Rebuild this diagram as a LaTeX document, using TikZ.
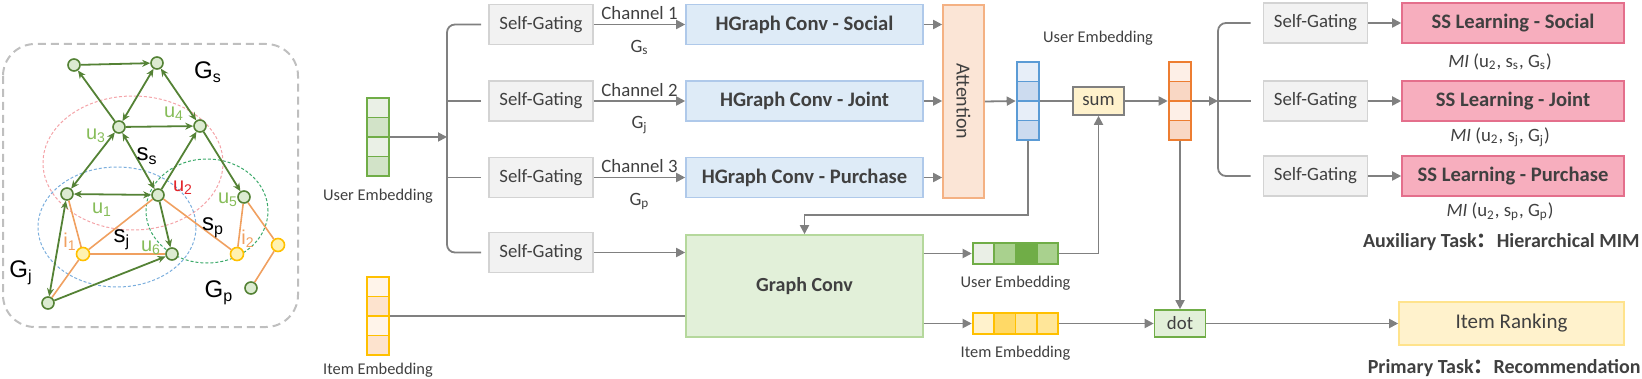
\documentclass[tikz,border=0pt]{standalone}
\usepackage{fontspec}
\usepackage{graphicx}
\setmainfont{Carlito}
\newfontfamily\graphfont{Liberation Sans}
\newfontfamily\cjkfont{Noto Sans CJK SC}
\usetikzlibrary{arrows.meta,positioning,fit,calc}

% Colours
\definecolor{txtgray}{HTML}{404040}
\definecolor{linegray}{HTML}{808080}
\definecolor{sgfill}{HTML}{F2F2F2}
\definecolor{sgline}{HTML}{D3D3D3}
\definecolor{hgfill}{HTML}{DEEBF7}
\definecolor{hgline}{HTML}{AFC9EA}
\definecolor{attfill}{HTML}{FBE5D6}
\definecolor{attline}{HTML}{F4B183}
\definecolor{gcfill}{HTML}{E2F0D9}
\definecolor{gcline}{HTML}{B5D89C}
\definecolor{ssfill}{HTML}{F7AEBE}
\definecolor{ssline}{HTML}{E46F8C}
\definecolor{rkfill}{HTML}{FFF2CC}
\definecolor{rkline}{HTML}{FFE38C}
\definecolor{embgreen}{HTML}{70AD47}
\definecolor{embblue}{HTML}{5B9BD5}
\definecolor{emborange}{HTML}{ED7D31}
\definecolor{embyellow}{HTML}{FFC000}
\definecolor{ugA}{HTML}{EAF0E6}
\definecolor{ugB}{HTML}{D2E3C8}
\definecolor{ubA}{HTML}{E7EEF8}
\definecolor{ubB}{HTML}{CCDBEF}
\definecolor{uoA}{HTML}{FDEFE7}
\definecolor{uoB}{HTML}{F9D7C4}
\definecolor{iyA}{HTML}{FFF4EA}
\definecolor{iyB}{HTML}{FDE3CE}
\definecolor{hgA}{HTML}{EAEFE6}
\definecolor{hgB}{HTML}{A9D18E}
\definecolor{hgC}{HTML}{70AD47}
\definecolor{hyA}{HTML}{FFF2CC}
\definecolor{hyB}{HTML}{FFD966}
\definecolor{hyC}{HTML}{FFE699}
\definecolor{gdark}{HTML}{548235}
\definecolor{gnode}{HTML}{DCEBD1}
\definecolor{glabel}{HTML}{86BC58}
\definecolor{iorange}{HTML}{F0A060}
\definecolor{ured}{HTML}{E3262B}
\definecolor{inode}{HTML}{FFF2B0}
\definecolor{ringS}{HTML}{F4A3A8}
\definecolor{ringJ}{HTML}{7BAEDD}
\definecolor{ringP}{HTML}{3DAA6B}
\definecolor{framegray}{HTML}{BFBFBF}

\begin{document}
\begin{tikzpicture}[
    x=0.5pt, y=-0.5pt,
    font=\fontsize{9.4}{11}\selectfont, text=txtgray,
    % Estilos de cajas
    gatebox/.style={draw=sgline, fill=sgfill, line width=0.8pt, minimum width=52pt, minimum height=20pt, inner sep=0pt},
    hgbox/.style={draw=hgline, fill=hgfill, line width=0.8pt, minimum width=118.5pt, minimum height=20pt, inner sep=0pt, font=\fontsize{10.3}{12}\selectfont\bfseries},
    attbox/.style={draw=attline, fill=attfill, line width=0.8pt, minimum width=20.5pt, minimum height=96.5pt, inner sep=0pt, font=\fontsize{10}{12}\selectfont},
    gcbox/.style={draw=gcline, fill=gcfill, line width=0.8pt, minimum width=118.5pt, minimum height=51pt, inner sep=0pt, font=\fontsize{10}{12}\selectfont\bfseries},
    sumbox/.style={draw=linegray, fill=rkfill, line width=0.8pt, minimum width=25.5pt, minimum height=14pt, inner sep=0pt},
    dotbox/.style={draw=embgreen, fill=gcfill, line width=0.8pt, minimum width=25.5pt, minimum height=13.5pt, inner sep=0pt},
    ssbox/.style={draw=ssline, fill=ssfill, line width=0.8pt, minimum width=111pt, minimum height=20pt, inner sep=0pt, font=\fontsize{10.3}{12}\selectfont\bfseries},
    rankbox/.style={draw=rkline, fill=rkfill, line width=0.8pt, minimum width=112.5pt, minimum height=21.5pt, inner sep=0pt, font=\fontsize{10.5}{12}\selectfont},
    vcell/.style={line width=0.9pt, minimum width=11pt, minimum height=9.75pt, inner sep=0pt},
    hcell/.style={line width=0.9pt, minimum width=10.6pt, minimum height=10.5pt, inner sep=0pt},
    embtext/.style={font=\fontsize{8.2}{10}\selectfont, inner sep=0pt},
    tasktext/.style={font=\fontsize{10}{12}\selectfont\bfseries, inner sep=0pt},
    % Estilos de flechas
    link/.style={draw=linegray, line width=0.9pt},
    arrow/.style={link, -{Triangle[length=4.5pt,width=4.5pt]}},
    % Estilos del grafo
    frame/.style={draw=framegray, line width=1pt, dash pattern=on 4pt off 2.5pt, rounded corners=16pt},
    ring/.style={line width=0.5pt, dash pattern=on 1.5pt off 1pt},
    unode/.style={circle, draw=gdark, fill=gnode, line width=0.8pt, minimum size=6pt, inner sep=0pt},
    inode/.style={circle, draw=embyellow, fill=inode, line width=0.8pt, minimum size=6.5pt, inner sep=0pt},
    gto/.style={draw=gdark, line width=0.9pt, -{Stealth[length=4pt,width=3.5pt]}},
    gboth/.style={draw=gdark, line width=0.9pt, {Stealth[length=4pt,width=3.5pt]}-{Stealth[length=4pt,width=3.5pt]}},
    iedge/.style={draw=iorange, line width=0.8pt},
    glbl/.style={font=\graphfont\fontsize{10}{11}\selectfont, inner sep=0pt},
    slbl/.style={font=\graphfont\fontsize{12}{12}\selectfont, inner sep=0pt, text=black}
]
\useasboundingbox (0,0) rectangle (1642,379);

% ==========================================
% MACROS
% ==========================================
% Vector vertical de 4 celdas
\newcommand{\vembed}[5]{
    \foreach \cellcol [count=\idx] in {#5}
        \node[vcell, draw=#4, fill=\cellcol] (#1-\idx) at (#2, {#3 + 19.5*\idx - 9.75}) {};
    \node[fit=(#1-1)(#1-4), inner sep=0pt] (#1) {};
}
% Vector horizontal de 4 celdas
\newcommand{\hembed}[5]{
    \foreach \cellcol [count=\idx] in {#5}
        \node[hcell, draw=#4, fill=\cellcol] (#1-\idx) at ({#2 + 21.25*\idx - 10.625}, #3) {};
    \node[fit=(#1-1)(#1-4), inner sep=0pt] (#1) {};
}

% ==========================================
% GRAFO (izquierda)
% ==========================================
\begin{scope}
    \draw[frame] (3,44) rectangle (298,327);

    % Hiperaristas
    \draw[ring, ringS] (133,163) ellipse [x radius=45pt, y radius=33.5pt];
    \draw[ring, ringJ] (117,227) ellipse [x radius=39.5pt, y radius=30pt];
    \draw[ring, ringP] (207,211) ellipse [x radius=30.5pt, y radius=26pt];

    % Usuarios e items
    \node[unode] (nA) at (74,65) {};
    \node[unode] (nB) at (157,63) {};
    \node[unode] (nU3) at (119,127) {};
    \node[unode] (nU4) at (200,126) {};
    \node[unode] (nU1) at (67,194) {};
    \node[unode] (nU2) at (158,195) {};
    \node[unode] (nU5) at (244,197) {};
    \node[unode] (nU6) at (172,254) {};
    \node[unode] (nC) at (48,303) {};
    \node[unode] (nP) at (251,288) {};
    \node[inode] (nI1) at (83,254) {};
    \node[inode] (nI2) at (237,254) {};
    \node[inode] (nI3) at (278,245) {};

    % Relaciones sociales
    \draw[gto] (nA) -- (nB);
    \draw[gto] (nU3) -- (nA);
    \draw[gboth] (nB) -- (nU3);
    \draw[gboth] (nB) -- (nU4);
    \draw[gto] (nU3) -- (nU4);
    \draw[gboth] (nU3) -- (nU1);
    \draw[gboth] (nU3) -- (nU2);
    \draw[gboth] (nU1) -- (nU2);
    \draw[gto] (nU2) -- (nU4);
    \draw[gto] (nU4) -- (nU5);
    \draw[gto] (nU2) -- (nU6);
    \draw[gboth] (nC) -- (nU1);
    \draw[gto] (nC) -- (nU6);

    % Compras
    \draw[iedge] (nU1) -- (nI1);
    \draw[iedge] (nI1) -- (nU2);
    \draw[iedge] (nI1) -- (nU6);
    \draw[iedge] (nI1) -- (nC);
    \draw[iedge] (nU2) -- (nI2);
    \draw[iedge] (nI2) -- (nU5);
    \draw[iedge] (nU5) -- (nI3);
    \draw[iedge] (nI3) -- (nP);

    % Etiquetas
    \node[slbl] (lGs) at (208,72) {G\textsubscript{s}};
    \node[slbl] (lGj) at (21,273) {G\textsubscript{j}};
    \node[slbl] (lGp) at (219,293) {G\textsubscript{p}};
    \node[slbl] (lSs) at (147,156) {s\textsubscript{s}};
    \node[slbl] (lSj) at (122,240) {s\textsubscript{j}};
    \node[slbl] (lSp) at (213,228) {s\textsubscript{p}};
    \node[glbl, text=glabel] (lu1) at (102,210) {u\textsubscript{1}};
    \node[glbl, text=ured] (lu2) at (183,188) {u\textsubscript{2}};
    \node[glbl, text=glabel] (lu3) at (96,136) {u\textsubscript{3}};
    \node[glbl, text=glabel] (lu4) at (174,114) {u\textsubscript{4}};
    \node[glbl, text=glabel] (lu5) at (228,200) {u\textsubscript{5}};
    \node[glbl, text=glabel] (lu6) at (151,248) {u\textsubscript{6}};
    \node[glbl, text=iorange] (li1) at (70,242) {i\textsubscript{1}};
    \node[glbl, text=iorange] (li2) at (248,239) {i\textsubscript{2}};
\end{scope}

% ==========================================
% CANALES (self-gating + HGraph)
% ==========================================
\vembed{ueIn}{378}{98}{embgreen}{ugA,ugB,ugA,ugB}
\node[embtext, below=5.5pt of ueIn] (ueInLbl) {User Embedding};
\vembed{ieIn}{378}{277}{embyellow}{iyA,iyB,iyA,iyB}
\node[embtext, below=3pt of ieIn] (ieInLbl) {Item Embedding};

\node[gatebox] (sgS) at (541,24.5) {Self-Gating};
\node[gatebox] (sgJ) at (541,101) {Self-Gating};
\node[gatebox] (sgP) at (541,177.5) {Self-Gating};
\node[gatebox] (sgG) at (541,252.5) {Self-Gating};

\node[hgbox] (hgS) at (804.5,24.5) {HGraph Conv - Social};
\node[hgbox] (hgJ) at (804.5,101) {HGraph Conv - Joint};
\node[hgbox] (hgP) at (804.5,177.5) {HGraph Conv - Purchase};
\node[attbox] (att) at (963.5,101.5) {\rotatebox{-90}{Attention}};
\node[gcbox] (gc) at (804.5,286) {Graph Conv};

% Reparto de la entrada
\coordinate (brL) at (447,252.5);
\draw[link, rounded corners=4pt] ([xshift=-3.5pt]sgS.west) -| (brL) -- ([xshift=-3.5pt]sgG.west);
\draw[link] ([xshift=-3.5pt]sgJ.west) -- (sgJ.west -| brL);
\draw[link] ([xshift=-3.5pt]sgP.west) -- (sgP.west -| brL);
\draw[arrow] (ueIn.east) -- (ueIn.east -| brL);

\draw[arrow] (sgS) -- (hgS) node[midway, above=-1.5pt] (ch1) {Channel 1} node[midway, below=4pt] (chG1) {G\textsubscript{s}};
\draw[arrow] (sgJ) -- (hgJ) node[midway, above=-1.5pt] (ch2) {Channel 2} node[midway, below=4pt] (chG2) {G\textsubscript{j}};
\draw[arrow] (sgP) -- (hgP) node[midway, above=-1.5pt] (ch3) {Channel 3} node[midway, below=4pt] (chG3) {G\textsubscript{p}};
\draw[arrow] (sgG.east) -- (sgG.east -| gc.west);
\draw[link] (ieIn.east) -- (ieIn.east -| gc.west);

\draw[arrow] (hgS.east) -- (hgS.east -| att.west);
\draw[arrow] (hgJ.east) -- (hgJ.east -| att.west);
\draw[arrow] (hgP.east) -- (hgP.east -| att.west);

% ==========================================
% FUSION
% ==========================================
\vembed{ueMid}{1028}{62}{embblue}{ubA,ubB,ubA,ubB}
\node[embtext] (ueMidLbl) at (1098,38) {User Embedding};
\node[sumbox] (sum) at (1098.5,101) {sum};
\vembed{ueOut}{1180}{62}{emborange}{uoA,uoB,uoA,uoB}

\draw[arrow] (att.east) -- (ueMid.west);
\draw[link] (ueMid.east) -- (sum.west);
\draw[arrow] (sum.east) -- (ueOut.west);

\coordinate (gcIn) at (804.5,215);
\draw[arrow] (ueMid.south) |- (gcIn) -- (gc.north);

\hembed{ueGc}{973}{253.5}{embgreen}{hgA,hgB,hgC,hgB}
\node[embtext, below=5pt of ueGc] (ueGcLbl) {User Embedding};
\hembed{ieGc}{973}{323.5}{embyellow}{hyA,hyB,hyC,hyC}
\node[embtext, below=5pt of ieGc] (ieGcLbl) {Item Embedding};

\draw[arrow] (ueGc.west -| gc.east) -- (ueGc.west);
\draw[arrow] (ieGc.west -| gc.east) -- (ieGc.west);
\draw[arrow] (ueGc.east) -| (sum.south);

% ==========================================
% TAREAS
% ==========================================
\node[dotbox] (dot) at (1180,323.5) {dot};
\node[rankbox] (rank) at (1511.5,323.5) {Item Ranking};
\draw[arrow] (ieGc.east) -- (dot.west);
\draw[arrow] (ueOut.south) -- (dot.north);
\draw[arrow] (dot.east) -- (rank.west);

\node[gatebox] (sgRS) at (1315.5,23) {Self-Gating};
\node[gatebox] (sgRJ) at (1315.5,101) {Self-Gating};
\node[gatebox] (sgRP) at (1315.5,176) {Self-Gating};
\node[ssbox] (ssS) at (1513,23) {SS Learning - Social};
\node[ssbox] (ssJ) at (1513,101) {SS Learning - Joint};
\node[ssbox] (ssP) at (1513,176) {SS Learning - Purchase};

\coordinate (brR) at (1218,176);
\draw[link, rounded corners=4pt] ([xshift=-6pt]sgRS.west) -| (brR) -- ([xshift=-6pt]sgRP.west);
\draw[link] ([xshift=-6pt]sgRJ.west) -- (sgRJ.west -| brR);
\draw[arrow] (ueOut.east) -- (ueOut.east -| brR);
\draw[arrow] (sgRS) -- (ssS);
\draw[arrow] (sgRJ) -- (ssJ);
\draw[arrow] (sgRP) -- (ssP);

\node (miS) at (1500,62) {\textit{MI} (u\textsubscript{2}, s\textsubscript{s}, G\textsubscript{s})};
\node (miJ) at (1500,137) {\textit{MI} (u\textsubscript{2}, s\textsubscript{j}, G\textsubscript{j})};
\node (miP) at (1500,212) {\textit{MI} (u\textsubscript{2}, s\textsubscript{p}, G\textsubscript{p})};

\node[tasktext, anchor=east] (auxLbl) at (1640,242) {Auxiliary Task{\cjkfont ：}Hierarchical MIM};
\node[tasktext, anchor=east] (priLbl) at (1641,368) {Primary Task{\cjkfont ：}Recommendation};

\end{tikzpicture}
\end{document}
